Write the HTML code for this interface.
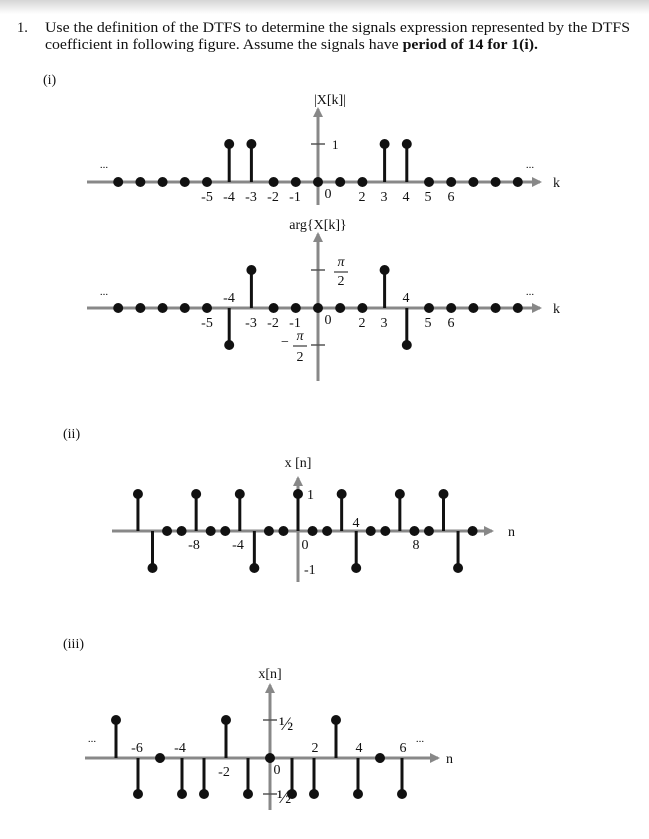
<!DOCTYPE html>
<html><head><meta charset="utf-8"><style>
html,body{margin:0;padding:0;background:#fff}
svg{display:block}
text{font-family:"Liberation Serif",serif;fill:#111}
</style></head><body>
<svg id="s" width="649" height="839" viewBox="0 0 649 839" xmlns="http://www.w3.org/2000/svg">
<defs>
<linearGradient id="g" x1="0" y1="0" x2="0" y2="1"><stop offset="0" stop-color="#d6d6d6"/><stop offset="1" stop-color="#fff"/></linearGradient>
<marker id="ar" markerWidth="10" markerHeight="10" refX="8" refY="5" orient="auto" markerUnits="userSpaceOnUse"><path d="M0,0 L10,5 L0,10 Z" fill="#888"/></marker>
</defs>
<rect x="0" y="0" width="649" height="14" fill="url(#g)"/>
<text x="17" y="32" font-size="14.5">1.</text>
<text x="45" y="32" font-size="14.5" textLength="585" lengthAdjust="spacingAndGlyphs">Use the definition of the DTFS to determine the signals expression represented by the DTFS</text>
<text x="45" y="49" font-size="14.5" textLength="493" lengthAdjust="spacingAndGlyphs">coefficient in following figure. Assume the signals have <tspan font-weight="bold">period of 14 for 1(i).</tspan></text>
<text x="43" y="84" font-size="14">(i)</text>
<text x="63" y="438" font-size="14">(ii)</text>
<text x="63" y="648" font-size="14">(iii)</text>

<g stroke="#888" stroke-width="3" fill="none">
<line x1="87" y1="182" x2="540" y2="182" marker-end="url(#ar)"/>
<line x1="318" y1="205" x2="318" y2="109" marker-end="url(#ar)"/>
<line x1="87" y1="308" x2="540" y2="308" marker-end="url(#ar)"/>
<line x1="318" y1="381" x2="318" y2="234" marker-end="url(#ar)"/>
<line x1="112" y1="531" x2="492" y2="531" marker-end="url(#ar)"/>
<line x1="298" y1="582" x2="298" y2="478" marker-end="url(#ar)"/>
<line x1="85" y1="758" x2="438" y2="758" marker-end="url(#ar)"/>
<line x1="270" y1="810" x2="270" y2="685" marker-end="url(#ar)"/>
</g>
<g stroke="#555" stroke-width="1.5">
<line x1="311" y1="144" x2="325" y2="144"/>
<line x1="311" y1="270" x2="325" y2="270"/>
<line x1="311" y1="345" x2="325" y2="345"/>
<line x1="263" y1="720" x2="277" y2="720"/>
<line x1="263" y1="794" x2="277" y2="794"/>
</g>
<g id="st" stroke="#111" stroke-width="3" fill="#111"></g>

<g font-size="14">
<text x="330" y="104" text-anchor="middle">|X[k]|</text>
<text x="332" y="149" font-size="13">1</text>
<text x="104" y="168" text-anchor="middle" font-size="11">...</text>
<text x="530" y="168" text-anchor="middle" font-size="11">...</text>
<text x="553" y="187">k</text>
<g text-anchor="middle">
<text x="207" y="201">-5</text><text x="229" y="201">-4</text><text x="251" y="201">-3</text>
<text x="273" y="201">-2</text><text x="295" y="201">-1</text><text x="328" y="198">0</text>
<text x="362" y="201">2</text><text x="384" y="201">3</text><text x="406" y="201">4</text>
<text x="428" y="201">5</text><text x="451" y="201">6</text>
</g>

<text x="318" y="229" text-anchor="middle">arg{X[k]}</text>
<text x="341" y="266" text-anchor="middle" font-style="italic">π</text>
<line x1="334" y1="272" x2="348" y2="272" stroke="#111" stroke-width="1"/>
<text x="341" y="285" text-anchor="middle">2</text>
<text x="300" y="340" text-anchor="middle" font-style="italic">π</text>
<text x="285" y="346" text-anchor="middle">−</text>
<line x1="293" y1="346" x2="307" y2="346" stroke="#111" stroke-width="1"/>
<text x="300" y="361" text-anchor="middle">2</text>
<text x="104" y="295" text-anchor="middle" font-size="11">...</text>
<text x="530" y="295" text-anchor="middle" font-size="11">...</text>
<text x="553" y="313">k</text>
<g text-anchor="middle">
<text x="229" y="302">-4</text><text x="406" y="302">4</text>
<text x="207" y="327">-5</text><text x="251" y="327">-3</text>
<text x="273" y="327">-2</text><text x="295" y="327">-1</text><text x="328" y="324">0</text>
<text x="362" y="327">2</text><text x="384" y="327">3</text>
<text x="428" y="327">5</text><text x="451" y="327">6</text>
</g>

<text x="298" y="467" text-anchor="middle">x [n]</text>
<text x="307" y="499">1</text>
<text x="304" y="574">-1</text>
<text x="508" y="536">n</text>
<g text-anchor="middle">
<text x="194" y="549">-8</text><text x="238" y="549">-4</text><text x="305" y="549">0</text>
<text x="356" y="527">4</text><text x="416" y="549">8</text>
</g>

<text x="270" y="678" text-anchor="middle">x[n]</text>
<text x="279" y="730" font-size="19">½</text>
<text x="277" y="803" font-size="19">½</text>
<text x="92" y="742" text-anchor="middle" font-size="11">...</text>
<text x="420" y="742" text-anchor="middle" font-size="11">...</text>
<text x="446" y="763">n</text>
<g text-anchor="middle">
<text x="137" y="752">-6</text><text x="180" y="752">-4</text><text x="224" y="776">-2</text>
<text x="277" y="774">0</text><text x="315" y="752">2</text><text x="359" y="752">4</text><text x="403" y="752">6</text>
</g>
</g>
</svg>
<script>
var g=document.getElementById('st'),N='http://www.w3.org/2000/svg';
function st(x,y0,y){if(y!==y0){var l=document.createElementNS(N,'line');l.setAttribute('x1',x);l.setAttribute('x2',x);l.setAttribute('y1',y0);l.setAttribute('y2',y);g.appendChild(l);}
var c=document.createElementNS(N,'circle');c.setAttribute('cx',x);c.setAttribute('cy',y);c.setAttribute('r',5);c.setAttribute('stroke','none');g.appendChild(c);}
var i,k,x;
for(k=-9;k<=9;k++){x=318+k*22.2;var v=(k==-4||k==-3||k==3||k==4)?144:182;st(x,182,v);
var p=308;if(k==-3||k==3)p=270;if(k==-4||k==4)p=345;st(x,308,p);}
var up=[-11,-7,-4,0,3,7,10],dn=[-10,-3,4,11];
for(k=-11;k<=12;k++){x=298+k*14.55;var y=531;if(up.indexOf(k)>=0)y=494;if(dn.indexOf(k)>=0)y=568;st(x,531,y);}
var u3=[-7,-2,3],z3=[-5,0,5];
for(k=-7;k<=6;k++){x=270+k*22;var y=794;if(u3.indexOf(k)>=0)y=720;if(z3.indexOf(k)>=0)y=758;st(x,758,y);}
</script>
</body></html>
